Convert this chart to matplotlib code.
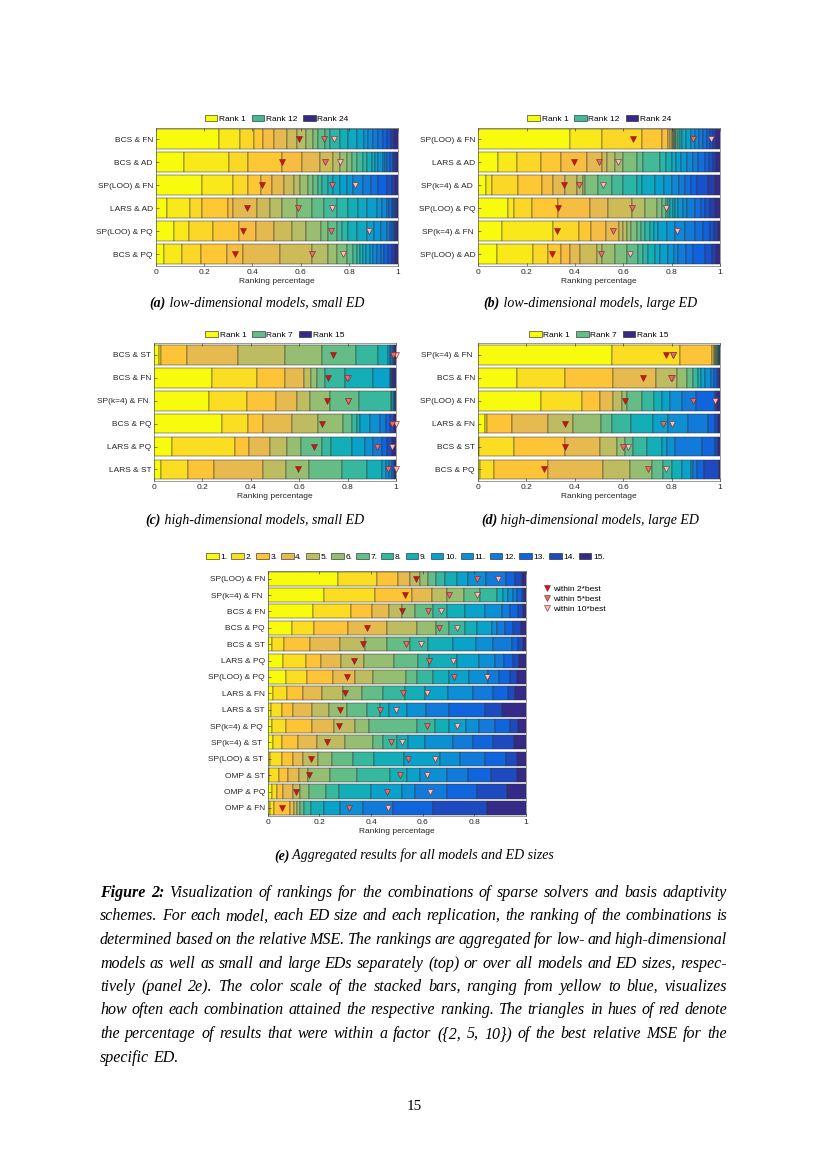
import numpy as np
import matplotlib
matplotlib.use('Agg')
import matplotlib.pyplot as plt
from matplotlib.colors import LinearSegmentedColormap
from matplotlib.patches import Patch
from matplotlib.lines import Line2D

plt.rcParams['font.family'] = ['Liberation Sans', 'DejaVu Sans']

W, H = 827, 1169

# ---- data: cumulative ranking percentage at the end of each rank (last rank ends at 1)
a_labels = ['BCS & FN', 'BCS & AD', 'SP(LOO) & FN', 'LARS & AD', 'SP(LOO) & PQ', 'BCS & PQ']
a_cum = [
    [0.262, 0.35, 0.406, 0.445, 0.49, 0.544, 0.583, 0.62, 0.652, 0.672, 0.698, 0.72, 0.762, 0.793, 0.83, 0.862, 0.879, 0.9, 0.92, 0.94, 0.957, 0.971, 0.985],
    [0.118, 0.304, 0.38, 0.52, 0.606, 0.679, 0.734, 0.762, 0.789, 0.81, 0.83, 0.858, 0.875, 0.893, 0.908, 0.92, 0.938, 0.948, 0.955, 0.968, 0.979, 0.985, 0.992],
    [0.193, 0.318, 0.38, 0.435, 0.482, 0.53, 0.572, 0.596, 0.63, 0.65, 0.672, 0.689, 0.71, 0.734, 0.762, 0.79, 0.817, 0.858, 0.89, 0.92, 0.955, 0.975, 0.99],
    [0.045, 0.142, 0.19, 0.30, 0.321, 0.417, 0.472, 0.521, 0.583, 0.645, 0.696, 0.748, 0.796, 0.837, 0.872, 0.913, 0.934, 0.955, 0.966, 0.975, 0.982, 0.99, 0.996],
    [0.076, 0.139, 0.238, 0.346, 0.415, 0.489, 0.562, 0.62, 0.685, 0.713, 0.748, 0.769, 0.796, 0.833, 0.872, 0.902, 0.931, 0.955, 0.968, 0.978, 0.985, 0.99, 0.996],
    [0.036, 0.11, 0.187, 0.295, 0.36, 0.514, 0.645, 0.71, 0.748, 0.79, 0.817, 0.83, 0.845, 0.858, 0.87, 0.885, 0.9, 0.916, 0.93, 0.945, 0.96, 0.975, 0.99],
]
a_w2 = [0.594, 0.523, 0.438, 0.376, 0.362, 0.328]
a_w5 = [0.696, 0.701, 0.73, 0.59, 0.723, 0.645]
a_w10 = [0.738, 0.762, 0.824, 0.727, 0.883, 0.773]

b_labels = ['SP(LOO) & FN', 'LARS & AD', 'SP(k=4) & AD ', 'SP(LOO) & PQ', 'SP(k=4) & FN ', 'SP(LOO) & AD']
b_cum = [
    [0.379, 0.513, 0.676, 0.759, 0.783, 0.795, 0.8, 0.805, 0.81, 0.815, 0.82, 0.828, 0.835, 0.843, 0.86, 0.878, 0.895, 0.912, 0.93, 0.945, 0.96, 0.972, 0.985],
    [0.08, 0.159, 0.259, 0.342, 0.448, 0.513, 0.531, 0.566, 0.6, 0.655, 0.683, 0.75, 0.775, 0.8, 0.82, 0.838, 0.862, 0.89, 0.91, 0.938, 0.955, 0.97, 0.985],
    [0.03, 0.058, 0.166, 0.262, 0.31, 0.36, 0.407, 0.434, 0.44, 0.494, 0.552, 0.6, 0.655, 0.676, 0.731, 0.77, 0.8, 0.83, 0.855, 0.88, 0.903, 0.952, 0.98],
    [0.124, 0.148, 0.223, 0.328, 0.462, 0.535, 0.634, 0.69, 0.74, 0.759, 0.775, 0.786, 0.795, 0.807, 0.815, 0.828, 0.845, 0.862, 0.897, 0.92, 0.938, 0.96, 0.98],
    [0.097, 0.31, 0.417, 0.466, 0.527, 0.582, 0.6, 0.615, 0.63, 0.655, 0.675, 0.69, 0.71, 0.728, 0.745, 0.78, 0.814, 0.855, 0.897, 0.931, 0.959, 0.975, 0.99],
    [0.076, 0.228, 0.29, 0.342, 0.379, 0.42, 0.49, 0.51, 0.566, 0.614, 0.659, 0.68, 0.703, 0.73, 0.752, 0.786, 0.81, 0.828, 0.86, 0.89, 0.938, 0.965, 0.985],
]
b_w2 = [0.641, 0.397, 0.356, 0.331, 0.324, 0.306]
b_w5 = [0.89, 0.5, 0.418, 0.634, 0.559, 0.508]
b_w10 = [0.961, 0.579, 0.517, 0.775, 0.823, 0.628]

c_labels = ['BCS & ST', 'BCS & FN', 'SP(k=4) & FN ', 'BCS & PQ', 'LARS & PQ', 'LARS & ST']
c_cum = [
    [0.021, 0.029, 0.135, 0.348, 0.541, 0.695, 0.835, 0.927, 0.968, 0.975, 0.98, 0.986, 0.99, 0.995],
    [0.241, 0.427, 0.541, 0.621, 0.648, 0.675, 0.707, 0.79, 0.906, 0.975, 0.978, 0.981, 0.984, 0.987],
    [0.229, 0.383, 0.504, 0.59, 0.645, 0.727, 0.848, 0.978, 0.985, 0.99, 0.993, 0.995, 0.997, 0.999],
    [0.282, 0.387, 0.452, 0.569, 0.676, 0.78, 0.817, 0.837, 0.851, 0.893, 0.934, 0.96, 0.975, 0.99],
    [0.073, 0.335, 0.394, 0.479, 0.548, 0.607, 0.693, 0.731, 0.817, 0.872, 0.906, 0.941, 0.961, 0.982],
    [0.029, 0.139, 0.249, 0.449, 0.545, 0.642, 0.776, 0.882, 0.941, 0.96, 0.972, 0.982, 0.99, 0.996],
]
c_w2 = [0.741, 0.72, 0.713, 0.693, 0.661, 0.594]
c_w5 = [0.989, 0.796, 0.8, 0.982, 0.92, 0.968]
c_w10 = [0.998, 0.8, 0.8, 1.0, 0.982, 1.0]

d_labels = ['SP(k=4) & FN ', 'BCS & FN', 'SP(LOO) & FN', 'LARS & FN', 'BCS & ST', 'BCS & PQ']
d_cum = [
    [0.556, 0.835, 0.968, 0.975, 0.98, 0.984, 0.988, 0.991, 0.994, 0.996, 0.997, 0.998, 0.999, 1.0],
    [0.161, 0.36, 0.557, 0.735, 0.824, 0.862, 0.89, 0.908, 0.92, 0.94, 0.963, 0.975, 0.986, 0.995],
    [0.26, 0.429, 0.505, 0.56, 0.594, 0.615, 0.677, 0.729, 0.762, 0.794, 0.842, 0.901, 0.979, 0.989],
    [0.03, 0.037, 0.14, 0.289, 0.395, 0.508, 0.556, 0.633, 0.725, 0.787, 0.867, 0.949, 0.979, 0.993],
    [0.007, 0.151, 0.36, 0.505, 0.574, 0.608, 0.642, 0.697, 0.759, 0.78, 0.814, 0.927, 0.979, 0.993],
    [0.01, 0.067, 0.289, 0.516, 0.629, 0.721, 0.766, 0.8, 0.842, 0.88, 0.89, 0.904, 0.935, 0.996],
]
d_w2 = [0.776, 0.681, 0.608, 0.36, 0.36, 0.275]
d_w5 = [0.805, 0.796, 0.887, 0.766, 0.601, 0.702]
d_w10 = [0.807, 0.8, 0.979, 0.8, 0.622, 0.776]

e_labels = ['SP(LOO) & FN', 'SP(k=4) & FN ', 'BCS & FN', 'BCS & PQ', 'BCS & ST', 'LARS & PQ',
            'SP(LOO) & PQ', 'LARS & FN', 'LARS & ST', 'SP(k=4) & PQ ', 'SP(k=4) & ST ',
            'SP(LOO) & ST ', 'OMP & ST', 'OMP & PQ', 'OMP & FN']
e_cum = [
    [0.274, 0.422, 0.506, 0.551, 0.59, 0.619, 0.652, 0.686, 0.734, 0.777, 0.845, 0.923, 0.957, 0.983],
    [0.219, 0.415, 0.557, 0.635, 0.693, 0.76, 0.822, 0.887, 0.912, 0.932, 0.951, 0.966, 0.983, 0.994],
    [0.174, 0.321, 0.403, 0.471, 0.519, 0.57, 0.641, 0.693, 0.764, 0.841, 0.906, 0.938, 0.97, 0.99],
    [0.093, 0.181, 0.312, 0.463, 0.577, 0.652, 0.703, 0.764, 0.812, 0.867, 0.889, 0.919, 0.949, 0.98],
    [0.015, 0.065, 0.164, 0.28, 0.377, 0.461, 0.551, 0.622, 0.719, 0.806, 0.873, 0.945, 0.97, 0.99],
    [0.061, 0.148, 0.205, 0.283, 0.374, 0.49, 0.58, 0.626, 0.734, 0.819, 0.88, 0.916, 0.951, 0.974],
    [0.071, 0.154, 0.252, 0.338, 0.409, 0.535, 0.579, 0.639, 0.703, 0.78, 0.854, 0.897, 0.938, 0.964],
    [0.019, 0.076, 0.138, 0.212, 0.293, 0.366, 0.445, 0.53, 0.609, 0.699, 0.796, 0.873, 0.932, 0.957],
    [0.013, 0.054, 0.099, 0.17, 0.239, 0.306, 0.386, 0.435, 0.47, 0.538, 0.613, 0.703, 0.841, 0.906],
    [0.018, 0.071, 0.17, 0.257, 0.338, 0.394, 0.577, 0.648, 0.703, 0.768, 0.819, 0.88, 0.938, 0.97],
    [0.019, 0.054, 0.116, 0.19, 0.299, 0.406, 0.445, 0.5, 0.544, 0.609, 0.719, 0.796, 0.871, 0.954],
    [0.009, 0.054, 0.099, 0.138, 0.196, 0.248, 0.329, 0.412, 0.528, 0.667, 0.744, 0.841, 0.923, 0.964],
    [0.005, 0.045, 0.08, 0.121, 0.155, 0.241, 0.347, 0.474, 0.538, 0.59, 0.693, 0.777, 0.863, 0.966],
    [0.015, 0.035, 0.061, 0.099, 0.125, 0.161, 0.225, 0.277, 0.399, 0.519, 0.57, 0.693, 0.809, 0.925],
    [0.009, 0.025, 0.088, 0.1, 0.112, 0.125, 0.14, 0.168, 0.218, 0.28, 0.37, 0.485, 0.641, 0.85],
]
e_w2 = [0.574, 0.532, 0.521, 0.383, 0.368, 0.335, 0.306, 0.299, 0.28, 0.277, 0.228, 0.168, 0.16, 0.108, 0.054]
e_w5 = [0.812, 0.702, 0.622, 0.663, 0.535, 0.626, 0.721, 0.525, 0.435, 0.615, 0.477, 0.544, 0.512, 0.463, 0.316]
e_w10 = [0.893, 0.812, 0.671, 0.732, 0.593, 0.719, 0.85, 0.615, 0.497, 0.732, 0.519, 0.648, 0.615, 0.628, 0.467]

caption_lines = [
    'Visualization of rankings for the combinations of sparse solvers and basis adaptivity',
    'schemes. For each model, each ED size and each replication, the ranking of the combinations is',
    'determined based on the relative MSE. The rankings are aggregated for low- and high-dimensional',
    'models as well as small and large EDs separately (top) or over all models and ED sizes, respec-',
    'tively (panel 2e).  The color scale of the stacked bars, ranging from yellow to blue, visualizes',
    'how often each combination attained the respective ranking. The triangles in hues of red denote',
    'the percentage of results that were within a factor ({2, 5, 10}) of the best relative MSE for the',
    'specific ED.',
]

# MATLAB parula, sampled
parula = LinearSegmentedColormap.from_list('parula', [
    (0.0, (0.2081, 0.1663, 0.5292)), (0.111, (0.0591, 0.3598, 0.8683)),
    (0.222, (0.0723, 0.4887, 0.8467)), (0.333, (0.0265, 0.6137, 0.8135)),
    (0.444, (0.0843, 0.6928, 0.7062)), (0.556, (0.3482, 0.7424, 0.5473)),
    (0.667, (0.6473, 0.7456, 0.4188)), (0.778, (0.8824, 0.7274, 0.3217)),
    (0.841, (0.9938, 0.7455, 0.2403)), (0.889, (0.988, 0.8066, 0.1794)),
    (1.0, (0.9763, 0.9831, 0.0538))])

MARK_COLORS = [(0.8, 0.08, 0.08), (0.9, 0.42, 0.42), (0.96, 0.74, 0.74)]
MARK_EDGE = (0.45, 0.15, 0.15)

fig = plt.figure(figsize=(W / 100, H / 100), dpi=100)
renderer = fig.canvas.get_renderer()


def px_rect(left, top, right, bottom):
    return [left / W, 1 - bottom / H, (right - left) / W, (bottom - top) / H]


def ranking_panel(rect, labels, cum, w2, w5, w10, legend_ranks, legend_y, numbered=False):
    ax = fig.add_axes(rect)
    n = len(labels)
    edges = np.hstack([np.zeros((n, 1)), np.asarray(cum), np.ones((n, 1))])
    shares = np.diff(edges, axis=1)
    n_ranks = shares.shape[1]
    colors = parula(np.linspace(1, 0, n_ranks))
    y = np.arange(n)
    for k in range(n_ranks):
        ax.barh(y, shares[:, k], left=edges[:, k], height=0.86, color=colors[k],
                edgecolor='0.2', linewidth=0.35)
    for vals, c in zip([w10, w5, w2], MARK_COLORS[::-1]):
        ax.plot(vals, y, 'v', ms=4, mfc=c, mec=MARK_EDGE, mew=0.4, clip_on=False, zorder=5)

    ax.set_xlim(0, 1)
    ax.set_ylim(n - 0.5, -0.5)
    ax.set_yticks(y, labels)
    ax.set_xticks(np.linspace(0, 1, 6), ['0', '0.2', '0.4', '0.6', '0.8', '1'])
    ax.tick_params(direction='in', length=2, width=0.4, labelsize=6, colors='0.15',
                   top=True, pad=2)
    for s in ax.spines.values():
        s.set_linewidth(0.4)
        s.set_color('0.3')
    ax.set_xlabel('Ranking percentage', fontsize=6, labelpad=1.5, color='0.15')

    handles = [Patch(facecolor=colors[r - 1], edgecolor='0.1', linewidth=0.4) for r in legend_ranks]
    names = [f'{r}.' if numbered else f'Rank {r}' for r in legend_ranks]
    cx = rect[0] + rect[2] / 2
    if numbered:
        cx = 405.5 / W
    ax.legend(handles, names, loc='center', bbox_to_anchor=(cx, 1 - legend_y / H),
              bbox_transform=fig.transFigure, ncol=len(legend_ranks), frameon=False,
              fontsize=6, handlelength=1.5, handleheight=0.7, handletextpad=0.2,
              columnspacing=0.7 if not numbered else 0.45, borderpad=0)
    return ax


ranking_panel(px_rect(155.7, 127.7, 397.7, 265.9), a_labels, a_cum, a_w2, a_w5, a_w10, [1, 12, 24], 119.3)
ranking_panel(px_rect(478.3, 127.7, 720, 265.9), b_labels, b_cum, b_w2, b_w5, b_w10, [1, 12, 24], 119.3)
ranking_panel(px_rect(154, 343.4, 396, 480.9), c_labels, c_cum, c_w2, c_w5, c_w10, [1, 7, 15], 335)
ranking_panel(px_rect(477.7, 343.4, 720, 480.9), d_labels, d_cum, d_w2, d_w5, d_w10, [1, 7, 15], 335)
ranking_panel(px_rect(267.7, 570.5, 526, 816.1), e_labels, e_cum, e_w2, e_w5, e_w10,
              list(range(1, 16)), 557.3, numbered=True)

mark_handles = [Line2D([], [], marker='v', ls='none', ms=4, mfc=c, mec=MARK_EDGE, mew=0.4)
                for c in MARK_COLORS]
fig.legend(mark_handles, ['within 2*best', 'within 5*best', 'within 10*best'],
           loc='upper left', bbox_to_anchor=(539 / W, 1 - 581 / H), frameon=False,
           fontsize=6, handlelength=0.8, handletextpad=0.4, labelspacing=0.25, borderpad=0)


# ---- captions
def serif_text(s, bold=False, size=10):
    return fig.text(0, 0, s, fontsize=size, family='Liberation Serif', style='italic',
                    weight='bold' if bold else 'normal', va='baseline')


def runs_centered(runs, cx, base, size):
    texts = [serif_text(s, b, size) for s, b in runs]
    widths = [t.get_window_extent(renderer).width for t in texts]
    x = cx - sum(widths) / 2
    for t, w in zip(texts, widths):
        t.set_position((x / W, 1 - base / H))
        x += w


def justified(words, base, x0=100, x1=727, justify=True, size=11.5):
    texts = [serif_text(s, b, size) for s, b in words]
    widths = [t.get_window_extent(renderer).width for t in texts]
    gap = (x1 - x0 - sum(widths)) / (len(words) - 1) if justify else size * 0.27 * 100 / 72
    x = x0
    for t, w in zip(texts, widths):
        t.set_position((x / W, 1 - base / H))
        x += w + gap


runs_centered([('(a)', True), (' low-dimensional models, small ED', False)], 257, 306.5, 10)
runs_centered([('(b)', True), (' low-dimensional models, large ED', False)], 590, 306.5, 10)
runs_centered([('(c)', True), (' high-dimensional models, small ED', False)], 255, 523.5, 10)
runs_centered([('(d)', True), (' high-dimensional models, large ED', False)], 590, 523.5, 10)
runs_centered([('(e)', True), (' Aggregated results for all models and ED sizes', False)], 414, 859.5, 10)

for i, line in enumerate(caption_lines):
    words = [(w, False) for w in line.split()]
    if i == 0:
        words = [('Figure', True), ('2:', True)] + words
    justified(words, 897 + 23.5 * i, justify=(i < len(caption_lines) - 1))

fig.text(414 / W, 1 - 1110 / H, '15', fontsize=11, family='Liberation Serif', ha='center', va='baseline')

fig.savefig('out.png', dpi=100, facecolor='white')
